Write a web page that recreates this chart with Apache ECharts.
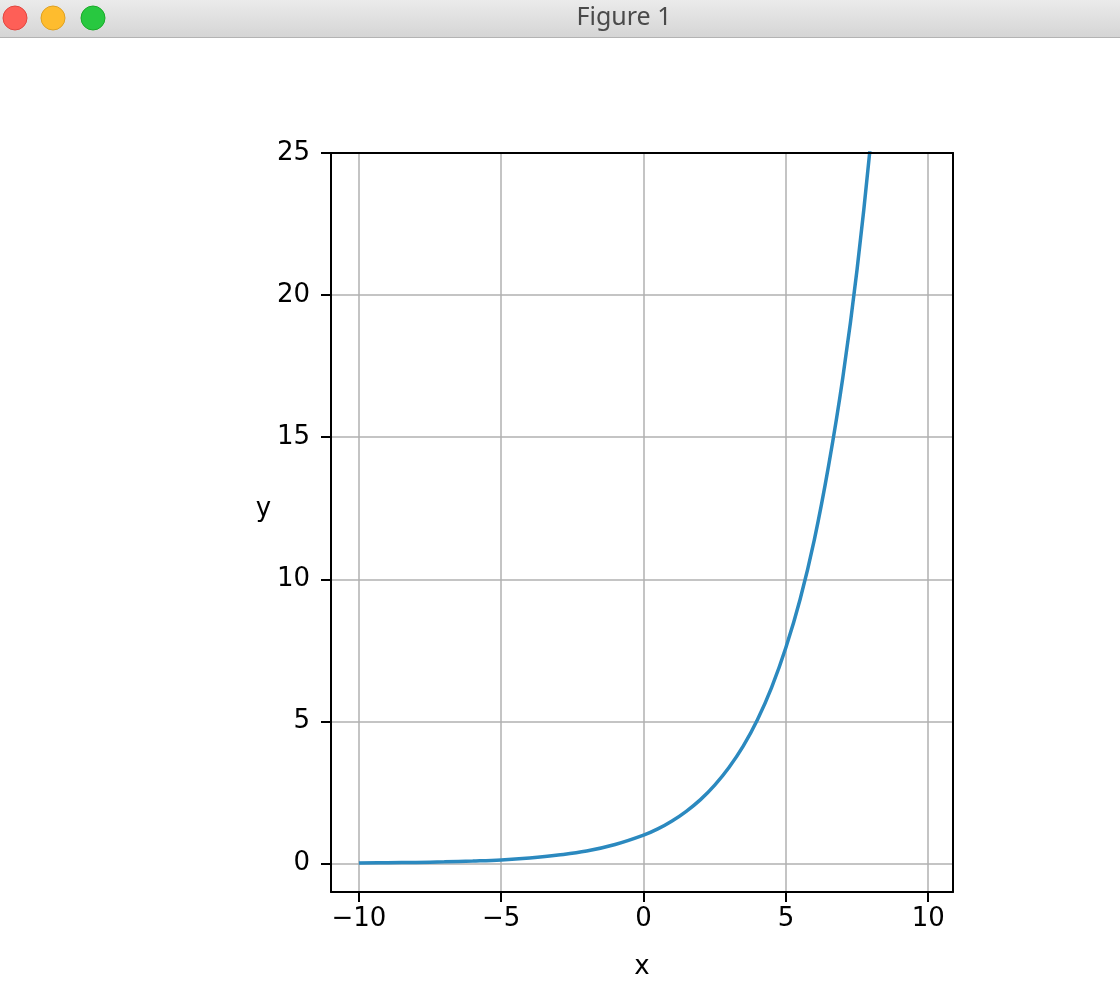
<!DOCTYPE html>
<html>
<head>
<meta charset="utf-8">
<script src="https://cdn.jsdelivr.net/npm/echarts@6/dist/echarts.min.js"></script>
<style>
html,body{margin:0;padding:0;background:#fff;}
#chart{width:1120px;height:992px;}
</style>
</head>
<body>
<div id="chart"></div>
<script>
// x positions of the plotted curve
const xValues = [-10, -9, -8, -7, -6, -5, -4, -3, -2, -1, 0, 0.5, 1, 1.5, 2, 2.5, 3, 3.5, 4, 4.5, 5, 5.5, 6, 6.5, 7, 7.5, 8, 8.5];
// y values
const yValues = [0.02, 0.03, 0.04, 0.06, 0.09, 0.13, 0.20, 0.30, 0.44, 0.67, 1.0, 1.22, 1.5, 1.84, 2.25, 2.76, 3.38, 4.13, 5.06, 6.2, 7.6, 9.3, 11.4, 14.0, 17.1, 20.9, 25.6, 31.4];
const xTicks = [-10, -5, 0, 5, 10];
const yTicks = [0, 5, 10, 15, 20, 25];
const xLabel = 'x';
const yLabel = 'y';
const windowTitle = 'Figure 1';

const seriesData = xValues.map((x, i) => [x, yValues[i]]);
const font = 'DejaVu Sans';
const chart = echarts.init(document.getElementById('chart'), null, {renderer: 'canvas'});

function fmt(v) { return v < 0 ? '\u2212' + Math.abs(v) : String(v); }

const frameAxis = {
  type: 'value', min: null, max: null, z: 10,
  axisLine: {show: true, onZero: false, lineStyle: {color: '#000', width: 2}},
  axisTick: {show: false}, axisLabel: {show: false}, splitLine: {show: false}
};

chart.setOption({
  backgroundColor: '#ffffff',
  animation: false,
  graphic: [
    {type: 'rect', shape: {x: 0, y: 0, width: 1120, height: 37},
     style: {fill: new echarts.graphic.LinearGradient(0, 0, 0, 1, [{offset: 0, color: '#ebebeb'}, {offset: 1, color: '#d5d5d5'}])}, z: 10},
    {type: 'line', shape: {x1: 0, y1: 37.5, x2: 1120, y2: 37.5}, style: {stroke: '#b3b3b3', lineWidth: 1}, z: 10},
    {type: 'circle', shape: {cx: 15, cy: 18, r: 12}, style: {fill: '#fe5f57', stroke: '#e2463f', lineWidth: 1}, z: 11},
    {type: 'circle', shape: {cx: 53, cy: 18, r: 12}, style: {fill: '#febc2e', stroke: '#dea123', lineWidth: 1}, z: 11},
    {type: 'circle', shape: {cx: 93, cy: 18, r: 12}, style: {fill: '#28c840', stroke: '#1aab29', lineWidth: 1}, z: 11},
    {type: 'text', x: 624, y: 18, style: {text: windowTitle, fill: '#4a4a4a', font: '25px "Noto Sans", "DejaVu Sans", sans-serif', textAlign: 'center', textVerticalAlign: 'middle'}, z: 11}
  ],
  grid: {
    left: 331, top: 153, width: 622, height: 739,
    show: false
  },
  xAxis: [{
    type: 'value', min: -10.98, max: 10.87,
    name: xLabel, nameLocation: 'middle', nameGap: 62,
    nameTextStyle: {fontFamily: font, fontSize: 26, color: '#000'},
    axisLine: {show: true, onZero: false, lineStyle: {color: '#000', width: 2}},
    axisTick: {show: true, inside: false, length: 10, customValues: xTicks, lineStyle: {color: '#000', width: 2}},
    axisLabel: {customValues: xTicks, formatter: fmt, fontFamily: font, fontSize: 26, color: '#000', margin: 14},
    splitLine: {show: true, lineStyle: {color: '#b0b0b0', width: 1.5}}
  }, Object.assign({}, frameAxis, {min: -10.98, max: 10.87, position: 'top'})],
  yAxis: [{
    type: 'value', min: -1, max: 25,
    name: yLabel, nameLocation: 'middle', nameRotate: 0, nameGap: 58,
    nameTextStyle: {fontFamily: font, fontSize: 26, color: '#000', verticalAlign: 'bottom'},
    axisLine: {show: true, onZero: false, lineStyle: {color: '#000', width: 2}},
    axisTick: {show: true, inside: false, length: 10, customValues: yTicks, lineStyle: {color: '#000', width: 2}},
    axisLabel: {customValues: yTicks, formatter: fmt, fontFamily: font, fontSize: 26, color: '#000', margin: 21},
    splitLine: {show: true, lineStyle: {color: '#b0b0b0', width: 1.5}}
  }, Object.assign({}, frameAxis, {min: -1, max: 25, position: 'right'})],
  series: [{
    type: 'line',
    data: seriesData,
    showSymbol: false,
    smooth: 0.4,
    clip: true,
    lineStyle: {color: '#2b89bf', width: 3.5},
    z: 5
  }]
});
</script>
</body>
</html>
